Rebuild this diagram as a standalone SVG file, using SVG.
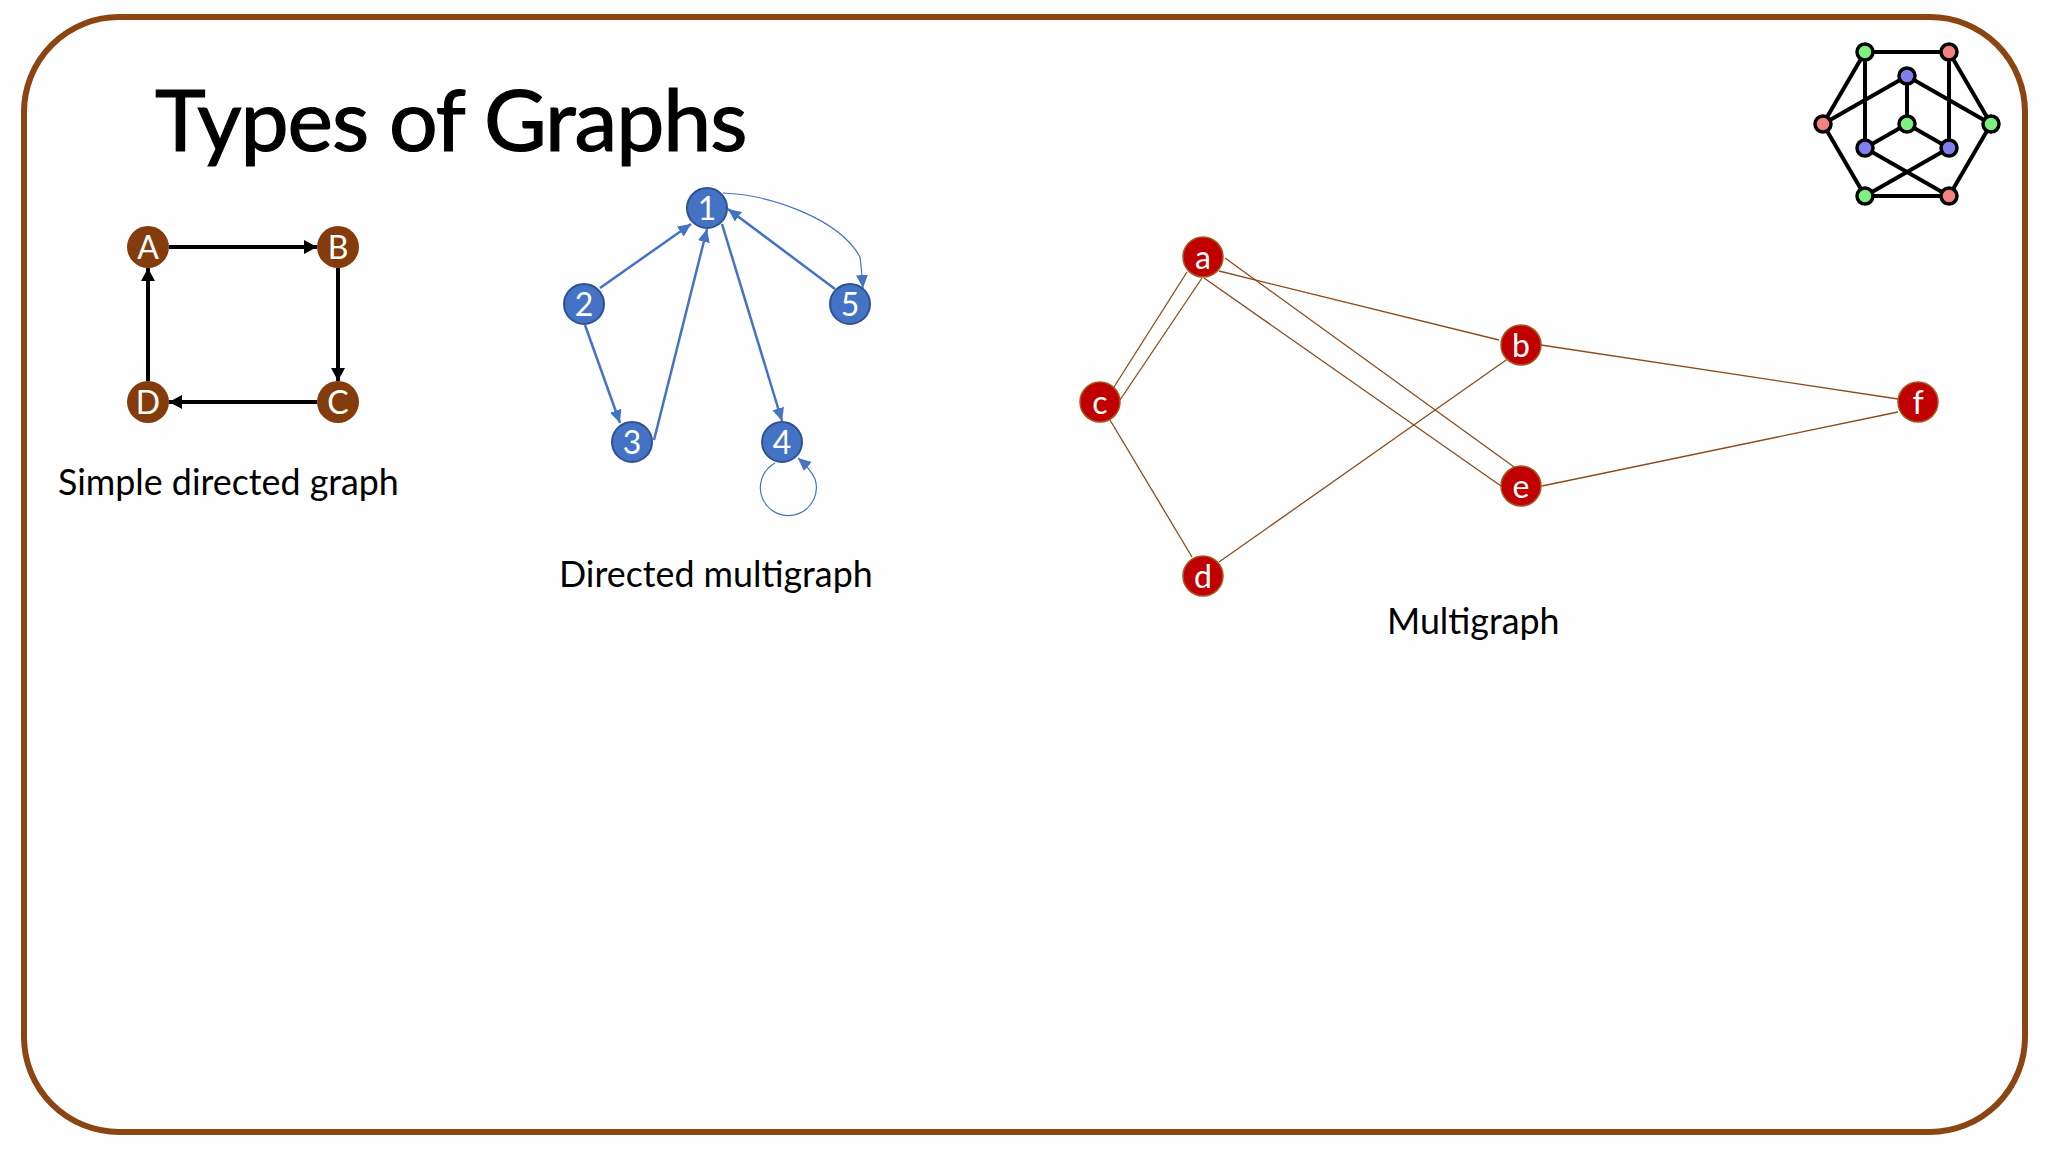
<svg xmlns="http://www.w3.org/2000/svg" width="2048" height="1152" viewBox="0 0 2048 1152">
<style>
text{font-family:"Lato","Open Sans","Liberation Sans",sans-serif}
.lab{font-size:35.8px;fill:#000}
.n{font-size:32px;fill:#fff;text-anchor:middle}
.br circle{fill:#843c0c}
.bl circle{fill:#4472c4;stroke:#2f528f;stroke-width:2}
.rd circle{fill:#c00000;stroke:#a5561c;stroke-width:1.5}
.k{stroke:#000;stroke-width:4;fill:none;marker-end:url(#ak)}
.u{stroke:#4472c4;stroke-width:2.5;fill:none;marker-end:url(#au)}
.t{stroke:#4472c4;stroke-width:1.2;fill:none;marker-end:url(#at)}
.m{stroke:#8b4a1c;stroke-width:1.3;fill:none}
.lg{stroke:#000;stroke-width:4;fill:none}
.lgn circle{stroke:#000;stroke-width:3.5}
</style>
<defs>
<marker id="ak" markerUnits="userSpaceOnUse" markerWidth="14" markerHeight="14" refX="13" refY="7" orient="auto"><path d="M0 0L13 7L0 14Z" fill="#000"/></marker>
<marker id="au" markerUnits="userSpaceOnUse" markerWidth="14" markerHeight="14" refX="13" refY="7" orient="auto"><path d="M0 1L13 7L0 13Z" fill="#4472c4"/></marker>
<marker id="at" markerUnits="userSpaceOnUse" markerWidth="14" markerHeight="14" refX="13" refY="7" orient="auto"><path d="M0 1L13 7L0 13Z" fill="#4472c4"/></marker>
</defs>
<rect width="2048" height="1152" fill="#fefefe"/>
<rect id="frame" x="24" y="17" width="2001" height="1115" rx="95" ry="95" fill="none" stroke="#8b4513" stroke-width="6"/>
<text id="title" x="155" y="151" font-size="86" fill="#000" stroke="#000" stroke-width="1.2" style="letter-spacing:-1.1px">Types of Graphs</text>

<g id="connectors">
<path class="k" d="M169 247H317"/>
<path class="k" d="M338 268V381"/>
<path class="k" d="M317 402H169"/>
<path class="k" d="M148 381V268"/>

<path class="u" d="M600 288L691 224"/>
<path class="u" d="M585 325L620 423"/>
<path class="u" d="M654 440L707 229"/>
<path class="u" d="M722 224L782 421"/>
<path class="u" d="M835 289L728 209"/>
<path class="t" d="M723 193C773 195 840 220 860 257C861 265 862 275 863 288"/>
<path class="t" d="M775 463A28 28 0 1 0 815 479C811 470 806 465 798 458"/>

<path class="m" d="M1114 387L1187 272"/>
<path class="m" d="M1120 400L1202 278"/>
<path class="m" d="M1225 258L1521 472"/>
<path class="m" d="M1204 278L1501 486"/>
<path class="m" d="M1219 271L1499 340"/>
<path class="m" d="M1110 420L1192 557"/>
<path class="m" d="M1219 562L1509 358"/>
<path class="m" d="M1541 345L1898 399"/>
<path class="m" d="M1542 486L1898 412"/>
</g>

<g id="node-A" class="br"><circle cx="148" cy="247" r="21"/><text class="n" x="148" y="259">A</text></g>
<g id="node-B" class="br"><circle cx="338" cy="247" r="21"/><text class="n" x="338" y="259">B</text></g>
<g id="node-C" class="br"><circle cx="338" cy="402" r="21"/><text class="n" x="338" y="414">C</text></g>
<g id="node-D" class="br"><circle cx="148" cy="402" r="21"/><text class="n" x="148" y="414">D</text></g>

<g id="node-1" class="bl"><circle cx="707" cy="208" r="20"/><text class="n" x="707" y="220">1</text></g>
<g id="node-2" class="bl"><circle cx="584" cy="304" r="20"/><text class="n" x="584" y="316">2</text></g>
<g id="node-3" class="bl"><circle cx="632" cy="442" r="20"/><text class="n" x="632" y="454">3</text></g>
<g id="node-4" class="bl"><circle cx="782" cy="442" r="20"/><text class="n" x="782" y="454">4</text></g>
<g id="node-5" class="bl"><circle cx="850" cy="304" r="20"/><text class="n" x="850" y="316">5</text></g>

<g id="node-a" class="rd"><circle cx="1203" cy="257" r="20"/><text class="n" x="1203" y="269">a</text></g>
<g id="node-b" class="rd"><circle cx="1521" cy="345" r="20"/><text class="n" x="1521" y="357">b</text></g>
<g id="node-c" class="rd"><circle cx="1100" cy="402" r="20"/><text class="n" x="1100" y="414">c</text></g>
<g id="node-d" class="rd"><circle cx="1203" cy="576" r="20"/><text class="n" x="1203" y="588">d</text></g>
<g id="node-e" class="rd"><circle cx="1521" cy="486" r="20"/><text class="n" x="1521" y="498">e</text></g>
<g id="node-f" class="rd"><circle cx="1918" cy="402" r="20"/><text class="n" x="1918" y="414">f</text></g>

<text class="lab" x="58" y="495">Simple directed graph</text>
<text class="lab" x="559" y="587">Directed multigraph</text>
<text class="lab" x="1387" y="634">Multigraph</text>

<g id="logo">
<path class="lg" d="M1865 52H1949M1865 52L1823 124M1949 52L1991 124M1865 52V148M1949 52V148M1907 76L1823 124M1907 76L1991 124M1907 76V124M1907 124L1865 148M1907 124L1949 148M1823 124L1865 196M1991 124L1949 196M1865 196H1949M1865 148L1949 196M1949 148L1865 196"/>
<g class="lgn">
<circle cx="1865" cy="52" r="8" fill="#7df07d"/>
<circle cx="1949" cy="52" r="8" fill="#f58080"/>
<circle cx="1907" cy="76" r="8" fill="#8080f0"/>
<circle cx="1823" cy="124" r="8" fill="#f58080"/>
<circle cx="1907" cy="124" r="8" fill="#7df07d"/>
<circle cx="1991" cy="124" r="8" fill="#7df07d"/>
<circle cx="1865" cy="148" r="8" fill="#8080f0"/>
<circle cx="1949" cy="148" r="8" fill="#8080f0"/>
<circle cx="1865" cy="196" r="8" fill="#7df07d"/>
<circle cx="1949" cy="196" r="8" fill="#f58080"/>
</g>
</g>
</svg>
